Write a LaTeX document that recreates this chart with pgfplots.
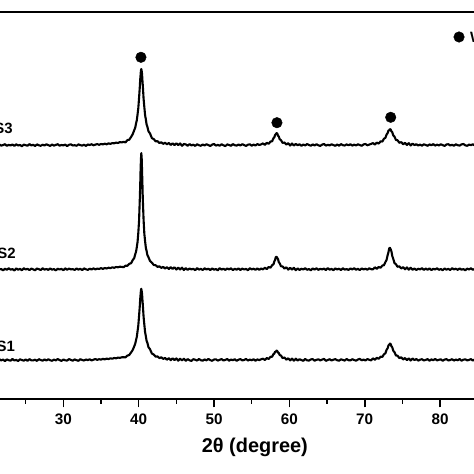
\documentclass[border=0pt]{standalone}
\usepackage{fontspec}
\setmainfont{Liberation Sans}
\usepackage{pgfplots}
\usepackage{pgfplotstable}
\pgfplotsset{compat=1.18}
\pgfplotstableread{
x a b c
21.00 39.5 129.4 254.6
21.25 38.4 130.8 253.2
21.50 40.1 129.9 254.9
21.75 38.9 130.3 253.7
22.00 39.7 128.9 254.2
22.25 38.2 130.6 255.1
22.50 39.9 129.5 253.5
22.75 39.1 131.0 254.4
23.00 38.6 129.7 253.9
23.25 40.3 130.2 254.8
23.50 38.8 128.8 253.4
23.75 39.4 130.9 255.0
24.00 38.3 129.6 253.8
24.25 40.0 130.4 254.3
24.50 39.2 129.1 253.1
24.75 38.7 131.1 254.7
25.00 39.8 129.8 254.1
25.25 38.5 130.5 253.6
25.50 40.2 129.2 255.2
25.75 39.0 130.7 253.9
26.00 38.9 129.9 254.5
26.25 39.6 129.0 253.3
26.50 38.4 130.8 254.9
26.75 40.1 130.1 254.0
27.00 39.3 129.3 253.5
27.25 38.6 131.0 254.6
27.50 39.9 129.7 253.8
27.75 38.8 130.3 255.0
28.00 40.0 129.4 254.2
28.25 39.1 130.9 253.4
28.50 38.5 129.6 254.8
28.75 39.7 130.2 253.7
29.00 38.9 128.9 254.4
29.25 40.3 130.6 255.1
29.50 39.2 129.8 253.6
29.75 38.4 130.4 254.3
30.00 39.8 129.1 253.9
30.25 39.0 131.0 254.7
30.50 38.7 129.5 253.2
30.75 40.2 130.7 254.5
31.00 39.4 129.9 255.0
31.25 38.6 130.2 253.8
31.50 39.9 129.3 254.1
31.75 39.1 130.8 253.5
32.00 38.5 129.7 254.9
32.25 40.1 130.5 254.2
32.50 39.3 129.2 253.7
32.75 38.8 130.9 254.6
33.00 39.8 130.0 253.4
33.25 39.2 129.4 254.8
33.50 40.0 130.6 254.3
33.75 38.9 129.8 255.1
34.00 39.6 130.9 254.0
34.25 40.3 129.9 254.7
34.50 39.4 130.7 255.2
34.75 40.1 130.3 254.5
35.00 39.7 131.2 255.3
35.25 40.5 130.4 254.9
35.50 39.9 131.3 255.6
35.75 40.7 130.8 255.0
36.00 40.2 131.6 255.9
36.25 41.0 131.1 255.4
36.50 40.6 132.0 256.2
36.75 41.3 131.5 256.0
37.00 41.0 132.3 256.7
37.25 41.7 132.0 256.3
37.50 41.4 132.6 257.2
37.75 42.0 132.4 256.9
38.00 42.1 132.1 257.5
38.25 41.9 133.6 256.9
38.50 43.7 133.5 259.2
38.75 44.3 135.5 259.6
39.00 47.0 136.1 262.5
39.20 49.2 139.1 265.0
39.40 52.8 141.1 268.9
39.55 55.8 145.2 271.9
39.65 59.3 147.7 275.8
39.75 62.4 152.2 279.0
39.85 68.1 157.3 284.9
39.95 73.8 166.5 291.2
40.05 83.4 178.6 301.5
40.15 93.5 200.6 312.5
40.20 100.2 213.2 319.6
40.25 104.6 228.8 324.2
40.30 109.1 240.1 328.9
40.35 110.5 246.2 330.3
40.40 108.1 240.8 328.0
40.45 105.4 227.7 325.1
40.50 99.3 214.1 318.6
40.55 94.4 199.5 313.3
40.65 82.6 179.6 300.7
40.75 74.7 165.6 292.2
40.85 67.2 158.2 284.2
40.95 63.1 151.5 279.9
41.05 58.5 148.4 274.8
41.15 56.6 144.4 272.7
41.30 52.1 142.1 268.0
41.50 50.1 138.4 265.9
41.75 45.8 136.7 261.2
42.00 44.8 134.3 260.2
42.25 42.6 134.1 258.0
42.50 42.9 132.4 258.1
42.75 41.2 133.0 256.3
43.00 42.0 131.4 257.0
43.25 40.4 132.4 255.4
43.50 41.3 130.8 256.6
43.75 39.6 132.1 255.0
44.00 41.1 130.3 256.3
44.25 39.1 132.1 254.3
44.50 41.0 130.4 256.0
44.75 39.2 132.0 254.2
45.00 40.9 129.8 256.0
45.25 38.6 131.6 254.1
45.50 40.6 129.8 255.9
45.75 38.9 131.6 253.5
46.00 40.6 129.3 255.3
46.25 38.5 131.1 254.9
46.50 40.2 129.4 253.6
46.75 39.0 130.8 255.2
47.00 38.4 129.9 253.9
47.25 40.1 130.5 254.6
47.50 39.6 129.1 253.4
47.75 38.7 131.2 255.0
48.00 40.3 129.7 254.1
48.25 39.1 130.4 253.5
48.50 38.6 129.3 254.8
48.75 39.9 131.0 253.8
49.00 38.9 129.8 255.1
49.25 40.4 130.6 254.2
49.50 39.2 129.2 253.3
49.75 38.5 130.9 254.7
50.00 39.8 129.6 255.3
50.25 40.0 130.3 253.7
50.50 38.7 129.0 254.4
50.75 39.5 131.1 253.6
51.00 40.2 129.7 255.0
51.25 38.8 130.6 254.0
51.50 39.4 129.4 253.2
51.75 40.3 130.8 254.9
52.00 38.6 129.9 254.3
52.25 39.7 131.0 253.5
52.50 39.1 129.2 255.2
52.75 40.1 130.5 254.1
53.00 38.5 129.6 253.7
53.25 39.6 130.9 254.8
53.50 40.2 129.3 253.9
53.75 38.9 130.7 255.1
54.00 39.3 129.8 254.2
54.25 40.4 130.4 253.4
54.50 38.7 129.1 254.6
54.75 39.8 131.1 255.0
55.00 39.0 129.9 253.6
55.25 40.1 130.6 254.7
55.50 38.6 129.5 253.8
55.75 39.9 130.9 255.2
56.00 39.2 129.4 254.3
56.25 40.0 130.8 254.9
56.50 40.6 129.9 255.9
56.75 39.3 131.6 254.4
57.00 41.3 130.2 256.5
57.25 40.3 132.3 255.5
57.50 42.5 131.6 257.8
57.70 42.5 134.0 257.9
57.90 45.4 135.1 261.3
58.00 45.5 137.9 261.8
58.10 47.6 139.2 264.4
58.20 47.5 142.3 265.0
58.30 48.7 142.5 266.2
58.40 48.2 141.3 265.7
58.50 46.6 140.1 263.4
58.60 46.4 137.0 262.8
58.70 44.4 136.2 260.3
58.90 43.6 132.9 259.0
59.10 41.2 132.9 256.4
59.35 41.8 130.7 256.8
59.60 39.6 132.0 254.7
59.85 41.0 129.7 256.1
60.10 38.9 131.5 253.8
60.35 40.7 129.7 255.8
60.60 38.6 131.5 253.8
60.85 40.6 129.1 255.4
61.10 38.8 130.9 254.1
61.35 40.1 129.3 255.0
61.60 39.2 130.6 253.5
61.85 38.5 129.8 254.8
62.10 40.3 131.1 253.9
62.35 39.0 129.5 255.2
62.60 38.7 130.3 254.3
62.85 39.9 129.0 253.6
63.10 40.2 130.8 254.9
63.35 38.6 129.7 253.8
63.60 39.5 131.0 255.1
63.85 40.0 129.4 254.0
64.10 38.9 130.5 253.4
64.35 39.7 129.9 254.7
64.60 40.4 130.7 255.3
64.85 38.5 129.2 253.7
65.10 39.3 131.2 254.5
65.35 40.1 129.6 253.9
65.60 38.8 130.4 255.0
65.85 39.6 129.1 254.2
66.10 40.2 130.9 253.5
66.35 39.0 129.8 254.8
66.60 38.6 130.6 253.6
66.85 40.0 129.3 255.2
67.10 39.4 131.0 254.1
67.35 38.7 129.7 253.8
67.60 40.3 130.2 254.9
67.85 39.1 129.4 254.0
68.10 38.9 130.8 255.1
68.35 40.1 129.9 253.7
68.60 39.3 131.1 254.6
68.85 38.6 129.5 253.9
69.10 39.8 130.5 255.0
69.35 40.4 129.2 254.3
69.60 39.0 130.9 253.5
69.85 39.7 129.8 254.9
70.10 38.8 130.6 255.3
70.35 40.2 129.6 254.0
70.60 39.5 131.0 254.7
70.85 38.9 130.1 255.4
71.10 41.0 130.0 256.2
71.35 39.5 132.0 254.7
71.60 41.5 130.5 256.7
71.85 40.5 132.4 255.7
72.10 42.6 131.5 257.9
72.35 42.4 133.8 257.8
72.55 45.0 134.0 260.5
72.75 46.1 137.3 261.6
72.90 49.4 139.3 264.7
73.05 51.2 144.4 266.3
73.15 53.8 147.0 268.7
73.25 54.5 150.8 269.1
73.35 55.7 151.5 270.2
73.45 55.2 149.9 269.7
73.55 52.9 147.9 267.8
73.65 52.1 143.5 267.2
73.80 48.4 140.2 263.7
73.95 47.2 136.2 262.7
74.15 43.8 135.1 259.3
74.35 43.7 132.5 259.1
74.60 41.2 133.0 256.5
74.85 42.0 130.8 257.2
75.10 39.8 132.2 255.0
75.35 41.3 130.0 256.5
75.60 39.2 131.9 254.3
75.85 40.9 129.6 256.1
76.10 38.8 131.5 253.8
76.35 40.8 129.5 255.7
76.60 39.2 130.8 254.2
76.85 40.3 129.3 255.1
77.10 38.7 130.6 253.8
77.35 39.6 129.9 254.7
77.60 40.1 131.1 253.6
77.85 38.8 129.4 255.0
78.10 39.4 130.7 254.3
78.35 40.2 129.6 253.5
78.60 38.6 130.9 254.9
78.85 39.9 129.2 254.0
79.10 39.1 130.5 255.2
79.35 40.4 129.8 253.7
79.60 38.9 131.0 254.6
79.85 39.5 129.5 253.9
80.10 40.0 130.3 255.0
80.35 38.5 129.1 254.2
80.60 39.7 130.8 253.4
80.85 40.2 129.7 254.8
81.10 38.8 130.4 255.1
81.35 39.3 129.3 253.8
81.60 40.1 131.1 254.5
81.85 38.7 129.9 253.6
82.10 39.8 130.6 255.0
82.35 39.0 129.4 254.1
82.60 40.3 130.9 253.7
82.85 38.6 129.6 254.9
83.10 39.6 130.2 255.3
83.35 40.0 129.0 254.0
83.60 38.9 130.7 253.5
83.85 39.4 129.8 254.7
84.10 40.2 131.0 254.2
84.35 38.7 129.5 255.0
84.60 39.9 130.4 253.9
84.85 39.1 129.2 254.6
85.10 40.1 130.8 254.1
85.35 38.8 129.7 255.2
}\xrd
\begin{document}
\begin{tikzpicture}
\begin{axis}[
  scale only axis,
  width=527.4bp, height=387bp,
  at={(-12bp,74.7bp)}, anchor=south west,
  xmin=20, xmax=90, ymin=0, ymax=387,
  xtick={30,40,...,80},
  minor xtick={25,35,...,85},
  ytick=\empty,
  xtick pos=bottom,
  tick align=outside,
  major tick length=8bp, minor tick length=4.5bp,
  every tick/.style={black, line width=1.6bp},
  axis line style={line width=1.8bp},
  /pgf/number format/assume math mode=true,
  xticklabel style={font=\fontsize{15.3}{17}\selectfont\bfseries, yshift=-3bp},
  xlabel={2θ (degree)},
  xlabel style={font=\fontsize{20}{24}\selectfont\bfseries, at={(axis description cs:0.506,0)}, anchor=center, yshift=-48bp},
  clip=false,
]
\addplot[black, line width=2.1bp, line join=round] table[x=x, y=a] {\xrd};
\addplot[black, line width=2.1bp, line join=round] table[x=x, y=b] {\xrd};
\addplot[black, line width=2.1bp, line join=round] table[x=x, y=c] {\xrd};
\addplot[only marks, mark=*, mark size=5.3bp, black] coordinates {(40.3,342) (58.35,276.6) (73.45,282) (82.52,362.3)};
\node[anchor=east, inner sep=0, font=\fontsize{15}{17}\selectfont\bfseries] at (axis cs:23.3,271) {S3};
\node[anchor=east, inner sep=0, font=\fontsize{15}{17}\selectfont\bfseries] at (axis cs:23.7,146) {S2};
\node[anchor=east, inner sep=0, font=\fontsize{15}{17}\selectfont\bfseries] at (axis cs:23.6,53) {S1};
\node[anchor=west, inner sep=0, font=\fontsize{15}{17}\selectfont\bfseries] at (axis cs:83.98,362.3) {W};
\end{axis}
\pgfresetboundingbox
\useasboundingbox (0,0) rectangle (474bp,474bp);
\end{tikzpicture}
\end{document}
